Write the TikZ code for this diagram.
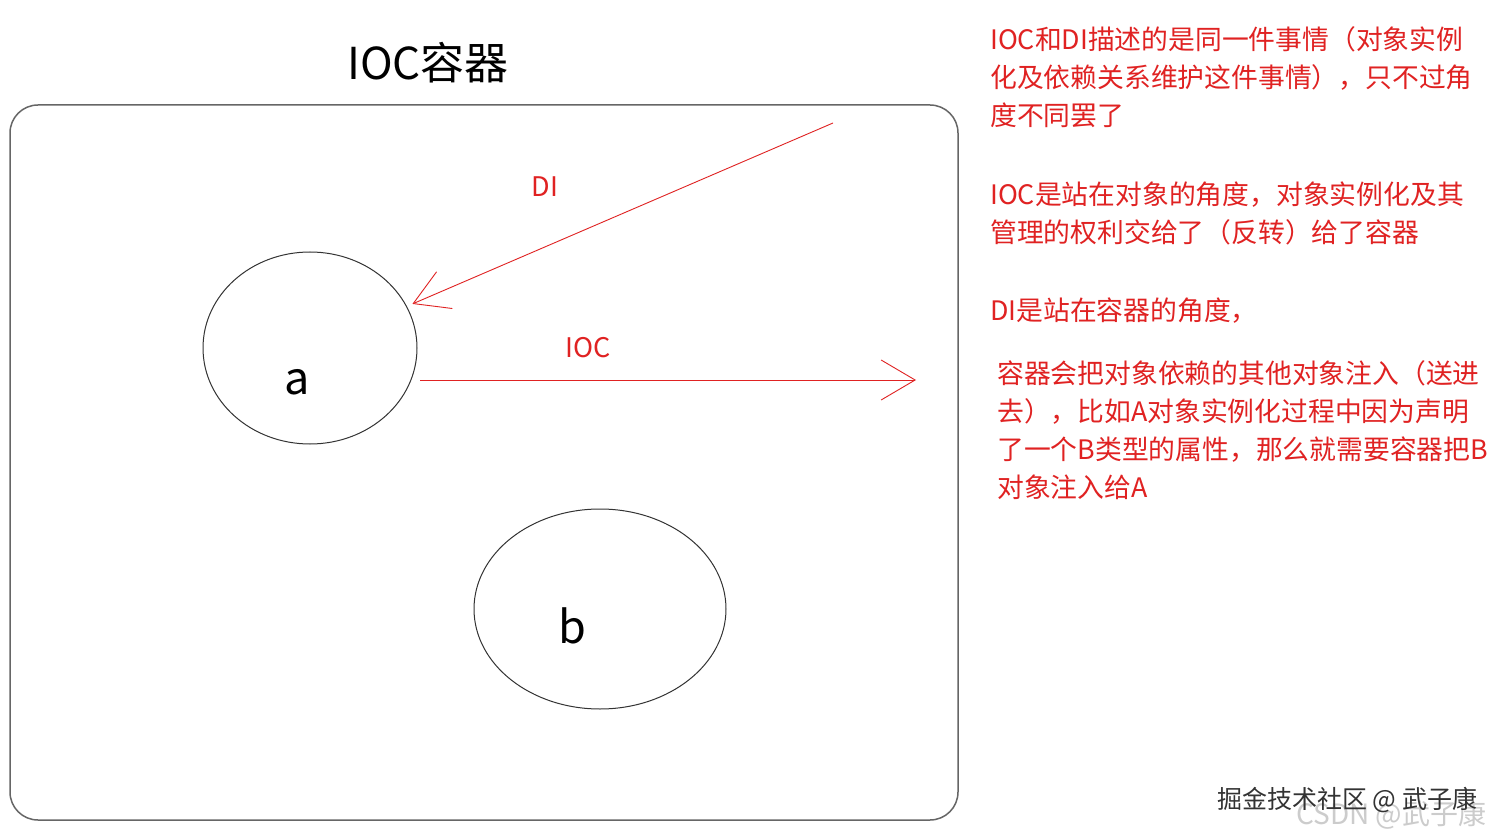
\documentclass[tikz,border=0pt]{standalone}
\usepackage{fontspec}
\newfontfamily\cjk{Noto Sans CJK SC}
\usepackage{xcolor}
\usetikzlibrary{arrows.meta,shapes.geometric}
\definecolor{notered}{RGB}{224,34,34}

\begin{document}
\begin{tikzpicture}[x=1pt, y=-1pt,
  frame/.style={draw=black!60, line width=1.5pt, rounded corners=28pt, inner sep=0pt},
  obj/.style={draw=black!80, ellipse, line width=1pt, inner sep=0pt},
  letter/.style={font=\cjk\fontsize{45}{45}\selectfont, anchor=base, inner sep=0pt},
  arr/.style={draw=notered, line width=0.9pt, -{Straight Barb[length=34pt, width=40pt, sharp]}},
  tag/.style={font=\cjk\fontsize{27}{27}\selectfont, text=notered, anchor=base, inner sep=0pt},
  note/.style={font=\cjk\fontsize{26.8}{38}\selectfont, text=notered, align=left, anchor=base west, inner sep=0pt}]
  \useasboundingbox[fill=white] (0,0) rectangle (1500,837);
  \node[font=\cjk\fontsize{44}{44}\selectfont, anchor=base, inner sep=0pt] (title) at (428,80) {IOC容器};
  \node[frame, minimum width=948pt, minimum height=715pt] (container) at (484,462.5) {};
  \node[obj, minimum width=214pt, minimum height=192pt] (a) at (310,348) {};
  \node[letter] (a-name) at (297,394) {a};
  \node[obj, minimum width=252pt, minimum height=200pt] (b) at (600,609) {};
  \node[letter] (b-name) at (572,643) {b};
  % DI: container -> a, IOC: a -> container
  \coordinate (di-from) at (833,123);
  \coordinate (ioc-from) at (420,380);
  \coordinate (ioc-to) at (916,380);
  \draw[arr, shorten >=6pt] (di-from) -- (a);
  \draw[arr] (ioc-from) -- (ioc-to);
  \node[tag] (di-tag) at (545,197) {DI};
  \node[tag] (ioc-tag) at (588,357) {IOC};
  % notes: anchored at the baseline of their last line
  \node[note] (note1) at (990,126) {IOC和DI描述的是同一件事情（对象实例\\化及依赖关系维护这件事情），只不过角\\度不同罢了};
  \node[note] (note2) at (990,243) {IOC是站在对象的角度，对象实例化及其\\管理的权利交给了（反转）给了容器};
  \node[note] (note3) at (990,320) {DI是站在容器的角度，};
  \node[note] (note4) at (997,497) {容器会把对象依赖的其他对象注入（送进\\去），比如A对象实例化过程中因为声明\\了一个B类型的属性，那么就需要容器把B\\对象注入给A};
  \node[font=\cjk\fontsize{28}{28}\selectfont, text=black!20, anchor=base west, inner sep=0pt] (csdn) at (1296,824) {CSDN @武子康};
  \node[font=\cjk\fontsize{25}{25}\selectfont, text=black!80, anchor=base west, inner sep=0pt] (juejin) at (1217,808) {掘金技术社区 @ 武子康};
\end{tikzpicture}
\end{document}
